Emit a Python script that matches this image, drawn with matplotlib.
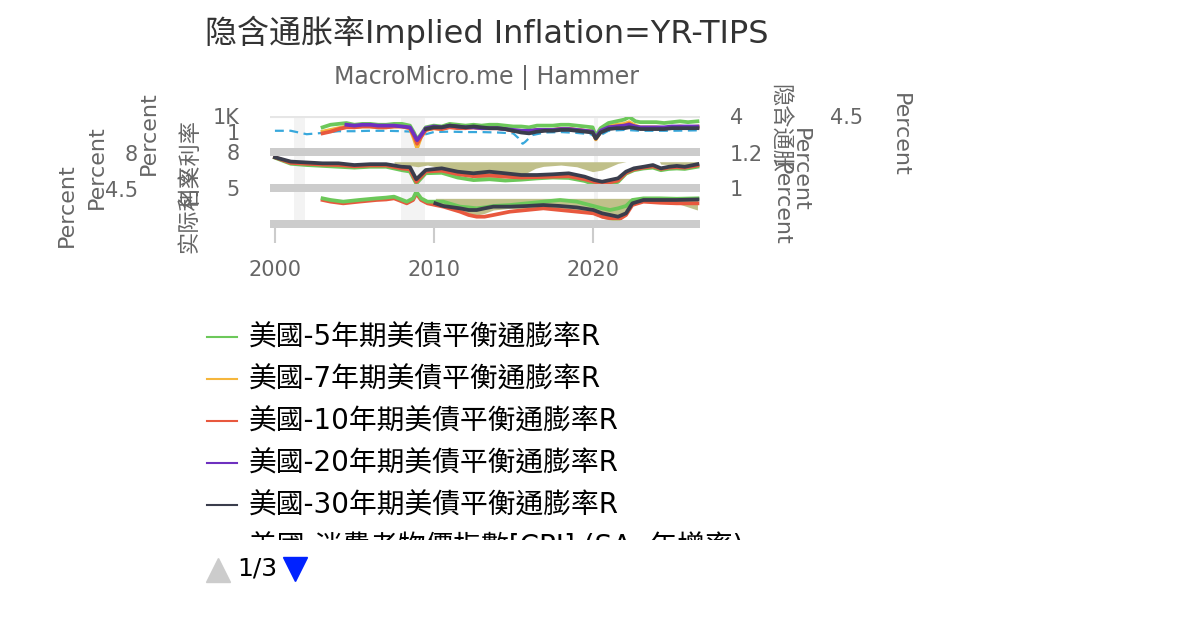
import numpy as np
import matplotlib.pyplot as plt
from matplotlib.lines import Line2D
from matplotlib.transforms import Bbox, TransformedBbox

nan = np.nan

# ---- top panel: breakeven inflation (%)
top_years = [2003.0, 2003.5, 2004.0, 2004.5, 2005.0, 2005.5, 2006.0, 2006.5, 2007.0, 2007.5,
             2008.0, 2008.5, 2008.75, 2008.95, 2009.2, 2009.5, 2010.0, 2010.5, 2011.0, 2011.5,
             2012.0, 2012.5, 2013.0, 2013.5, 2014.0, 2014.5, 2015.0, 2015.5, 2016.0, 2016.5,
             2017.0, 2017.5, 2018.0, 2018.5, 2019.0, 2019.5, 2020.0, 2020.2, 2020.5, 2021.0,
             2021.5, 2022.0, 2022.3, 2022.7, 2023.0, 2023.5, 2024.0, 2024.5, 2025.0, 2025.5,
             2026.0, 2026.6]
be5 = [2.4, 2.7, 2.8, 2.9, 2.7, 2.8, 2.8, 2.7, 2.7, 2.8, 2.8, 2.6, 1.8, 1.0, 1.6, 2.4, 2.6, 2.5,
       2.8, 2.7, 2.6, 2.7, 2.6, 2.7, 2.7, 2.6, 2.5, 2.5, 2.4, 2.6, 2.6, 2.6, 2.7, 2.7, 2.6, 2.5,
       2.4, 1.4, 2.3, 2.9, 3.1, 3.3, 3.6, 3.1, 3.0, 3.0, 3.0, 2.9, 3.0, 3.1, 3.0, 3.1]
be7 = [1.9, 2.1, 2.3, 2.5, 2.4, 2.5, 2.5, 2.4, 2.4, 2.5, 2.5, 2.3, 1.1, 0.0, 1.3, 2.1, 2.3, 2.2,
       2.5, 2.4, 2.4, 2.4, 2.3, 2.3, 2.3, 2.2, 2.0, 2.0, 1.9, 2.1, 2.1, 2.1, 2.2, 2.2, 2.1, 2.0,
       1.9, 1.0, 1.9, 2.5, 2.7, 2.8, 3.0, 2.6, 2.4, 2.4, 2.4, 2.3, 2.4, 2.5, 2.4, 2.5]
be10 = [1.7, 1.9, 2.2, 2.4, 2.4, 2.5, 2.5, 2.4, 2.4, 2.5, 2.5, 2.3, 1.4, 0.5, 1.3, 2.1, 2.3, 2.2,
        2.4, 2.3, 2.3, 2.4, 2.3, 2.3, 2.3, 2.2, 2.0, 2.0, 1.9, 2.1, 2.1, 2.1, 2.2, 2.2, 2.1, 2.0,
        1.9, 1.1, 1.9, 2.4, 2.5, 2.6, 2.8, 2.4, 2.3, 2.3, 2.3, 2.3, 2.4, 2.4, 2.4, 2.4]
be20 = [nan, nan, nan, 2.7, 2.6, 2.7, 2.7, 2.6, 2.6, 2.6, 2.5, 2.4, 1.6, 0.9, 1.5, 2.3, 2.5, 2.4,
        2.6, 2.5, 2.4, 2.4, 2.3, 2.3, 2.3, 2.2, 2.1, 2.0, 2.0, 2.1, 2.1, 2.1, 2.2, 2.2, 2.1, 2.0,
        1.9, 1.2, 2.0, 2.4, 2.5, 2.6, 2.7, 2.5, 2.4, 2.4, 2.4, 2.4, 2.5, 2.5, 2.5, 2.5]
be30 = [nan] * 15 + [2.2, 2.4, 2.4, 2.6, 2.5, 2.4, 2.5, 2.4, 2.3, 2.3, 2.2, 2.0, 1.8, 1.7, 1.9,
                     2.0, 2.0, 2.1, 2.1, 2.0, 1.9, 1.8, 1.1, 1.8, 2.2, 2.3, 2.3, 2.4, 2.3, 2.2,
                     2.2, 2.2, 2.2, 2.3, 2.3, 2.3, 2.3]
cpi_years = [2000, 2001, 2002, 2003, 2004, 2005, 2006, 2007, 2008, 2008.6, 2008.95, 2009.3,
             2010, 2011, 2012, 2013, 2014, 2015, 2015.3, 2015.45, 2015.6, 2015.75, 2016.2,
             2017, 2018, 2019, 2019.9, 2020.2, 2020.6, 2021, 2022, 2023, 2024, 2025, 2026.6]
cpi = [2.0, 2.0, 1.6, 1.75, 1.95, 1.95, 2.0, 2.0, 1.95, 1.9, 0.8, 1.5, 1.85, 1.9, 1.85, 1.85,
       1.8, 1.7, 1.2, 0.7, 0.5, 0.7, 1.5, 1.8, 1.85, 1.75, 1.6, 1.2, 1.6, 2.0, 2.1, 2.0, 2.0,
       2.0, 2.05]

# ---- middle panel: real rates (%)
mid_years = [2000, 2001, 2002, 2003, 2004, 2005, 2006, 2007, 2008, 2008.5, 2008.9, 2009.5,
             2010.5, 2011.5, 2012.5, 2013.5, 2014.5, 2015.5, 2016.5, 2017.5, 2018.5, 2019.5,
             2020.1, 2020.6, 2021.1, 2021.6, 2022.1, 2022.6, 2023.2, 2023.8, 2024.3, 2024.8,
             2025.3, 2025.8, 2026.6]
real30 = [4.2, 3.2, 3.0, 2.8, 2.8, 2.4, 2.6, 2.6, 2.0, 1.9, -0.9, 1.25, 1.64, 0.86, 0.48, 0.86,
          0.48, 0.09, 0.09, 0.25, 0.48, -0.3, -1.07, -1.47, -1.07, -0.68, 0.86, 1.64, 2.0, 2.4,
          1.64, 2.0, 2.2, 2.0, 2.6]
real10 = [4.2, 2.9, 2.7, 2.5, 2.4, 2.1, 2.3, 2.3, 1.6, 1.4, -1.5, 0.9, 1.1, 0.3, -0.2, 0.0,
          -0.3, -0.5, -0.4, -0.3, -0.2, -0.9, -1.5, -1.8, -1.6, -1.2, 0.6, 1.4, 1.8, 2.1, 1.5,
          1.8, 1.9, 1.8, 2.3]
real5 = [4.1, 2.7, 2.4, 2.2, 2.0, 1.8, 2.0, 2.0, 1.2, 0.9, -1.9, 0.5, 0.6, -0.5, -1.1, -0.9,
         -1.2, -1.0, -0.7, -0.5, -0.6, -1.3, -2.1, -2.3, -2.0, -1.5, 0.4, 1.2, 1.6, 1.8, 1.2,
         1.5, 1.6, 1.5, 2.0]
area_mid_years = [2007.5, 2008.3, 2009.0, 2009.6, 2010.6, 2011.0, 2011.6, 2012.7, 2013.7, 2014.8,
                  2015.8, 2016.4, 2016.9, 2018.0, 2019.0, 2020.0, 2020.6, 2021.1, 2021.6, 2022.1,
                  2024.2, 2024.3, 2025.0, 2026.0, 2026.6]
area_mid = [2.8, 2.4, 2.0, 2.4, 1.64, 0.86, 0.09, -0.4, -1.07, -0.3, 0.48, 1.64, 2.1, 2.4, 2.0,
            0.86, 1.25, 2.0, 2.8, 3.17, 3.17, 2.6, 2.5, 2.4, 2.5]
area_mid_top = 3.17

# ---- bottom panel: nominal yields (%)
bot_years = [2003.0, 2003.5, 2004.3, 2005.3, 2006.4, 2007.0, 2007.5, 2008.3, 2008.7, 2008.9,
             2009.2, 2009.6, 2010.1, 2010.6, 2011.65, 2012.2, 2012.7, 2013.2, 2013.75, 2014.8,
             2015.85, 2016.9, 2017.95, 2019.0, 2020.05, 2020.6, 2021.1, 2021.6, 2022.1, 2022.5,
             2023.2, 2024.25, 2025.3, 2026.6]
nom10 = [4.29, 3.93, 3.57, 3.93, 4.29, 4.4, 4.64, 3.57, 4.29, 5.7, 4.29, 3.57, 3.21, 2.86, 1.79,
         1.07, 0.71, 0.71, 1.07, 1.79, 2.14, 2.5, 2.14, 1.79, 1.43, 0.71, 0.36, 0.0, 1.07, 3.21,
         3.93, 3.7, 3.57, 3.57]
nom5 = [4.64, 4.29, 3.93, 4.29, 4.64, 4.8, 5.0, 3.93, 4.64, 6.07, 4.64, 3.93, 3.93, 3.93, 2.86,
        2.7, 2.5, 2.7, 3.0, 3.21, 3.57, 3.93, 4.29, 3.93, 3.0, 2.5, 2.14, 2.5, 3.0, 4.29, 4.64,
        4.64, 4.55, 4.64]
nom30 = [nan] * 12 + [3.57, 3.0, 2.5, 2.14, 2.14, 2.5, 2.86, 2.86, 3.0, 3.21, 3.0, 2.7, 2.14,
                      1.43, 1.07, 0.71, 1.43, 3.57, 4.29, 4.29, 4.29, 4.4]
area_bot = [nan] * 12 + [4.29, 3.21, 2.14, 1.43, 1.07, 1.43, 2.14, 2.5, 2.14, 2.5, 2.14, 2.14,
                         1.43, 0.36, 0.0, -0.36, 1.07, 3.93, 4.29, 4.29, 3.57, 2.14]
area_bot_top = 4.64

recessions = [(2001.2, 2001.9), (2007.95, 2009.45), (2020.1, 2020.35)]

legend_labels = ['美國-5年期美債平衡通膨率R', '美國-7年期美債平衡通膨率R', '美國-10年期美債平衡通膨率R',
                 '美國-20年期美債平衡通膨率R', '美國-30年期美債平衡通膨率R',
                 '美國-消費者物價指數[CPI] (SA, 年增率)']

GREEN, ORANGE, RED, PURPLE, DARK = '#6cc85a', '#f5b63c', '#e8583e', '#6e30bf', '#3a3d4c'
BLUE, OLIVE = '#38a8dc', '#c0c08a'
legend_colors = [GREEN, ORANGE, RED, PURPLE, DARK, BLUE]

W, H = 1200, 630
fig = plt.figure(figsize=(12, 6.3), dpi=100)
ZH = ['DejaVu Sans', 'Noto Sans CJK SC']
TW = ['DejaVu Sans', 'Noto Sans CJK TC']


def box(x0, y0, x1, y1):
    return [x0 / W, 1 - y1 / H, (x1 - x0) / W, (y1 - y0) / H]


def put(x, y, s, **kw):
    kw.setdefault('family', ZH)
    return fig.text(x / W, 1 - y / H, s, **kw)


XL = (1999.69, 2026.76)

# background: recession shading, gray separator bands, x ticks
bg = fig.add_axes(box(270, 116, 700, 228))
bg.set_xlim(XL)
bg.set_ylim(228, 116)
for a, b in recessions:
    bg.axvspan(a, b, color='#f3f3f3', lw=0, zorder=0)
for a, b in [(148, 156), (184, 192), (220, 228)]:
    bg.axhspan(a, b, color='#cccccc', lw=0, zorder=2)
bg.axhline(117, color='#e6e6e6', lw=1.5, zorder=2)
for s in bg.spines.values():
    s.set_visible(False)
bg.set_yticks([])
bg.set_xticks([2000, 2010, 2020])
bg.tick_params(axis='x', length=11, width=1.5, color='#cccccc', labelsize=15,
               labelcolor='#666666', pad=12)


def panel(y0, y1, ylim):
    ax = fig.add_axes(box(270, y0, 700, y1))
    ax.set_xlim(XL)
    ax.set_ylim(ylim)
    ax.patch.set_alpha(0)
    ax.axis('off')
    return ax


lw = 2.7
top = panel(117, 148, (0, 3.6))
top.plot(cpi_years, cpi, color=BLUE, lw=1.6, ls=(0, (4, 2.5)))
top.plot(top_years, be7, color=ORANGE, lw=lw)
top.plot(top_years, be10, color=RED, lw=lw)
top.plot(top_years, be5, color=GREEN, lw=lw)
top.plot(top_years, be20, color=PURPLE, lw=lw)
top.plot(top_years, be30, color=DARK, lw=lw)

mid = panel(156, 184, (-2, 4.5))
mid.fill_between(area_mid_years, area_mid_top, area_mid, color=OLIVE, lw=0)
mid.plot(mid_years, real5, color=GREEN, lw=lw)
mid.plot(mid_years, real10, color=RED, lw=lw)
mid.plot(mid_years, real30, color=DARK, lw=lw)

bot = panel(192, 220, (0, 6))
bot.fill_between(bot_years, area_bot_top, area_bot, color=OLIVE, lw=0)
bot.plot(bot_years, nom10, color=RED, lw=lw)
bot.plot(bot_years, nom5, color=GREEN, lw=lw)
bot.plot(bot_years, nom30, color=DARK, lw=lw)

# titles
put(205, 33, '隐含通胀率Implied Inflation=YR-TIPS', fontsize=23, color='#333333', va='center')
put(486, 78, 'MacroMicro.me | Hammer', fontsize=17, color='#666666', ha='center', va='center')

# overlapping axis labels (left)
g = '#666666'
for x, y, s in [(240, 118, '1K'), (240, 134, '1'), (240, 154, '8'), (240, 190, '5'),
                (138, 155, '8'), (138, 191, '4.5')]:
    put(x, y, s, fontsize=15, color=g, ha='right', va='center')
for x, y in [(67, 205), (97, 167), (149, 133)]:
    put(x, y, 'Percent', fontsize=16, color=g, rotation=90, ha='center', va='center')
put(189, 209, '实际利率', fontsize=16, color=g, rotation=90, ha='center', va='center')
put(191, 164, '名义利率', fontsize=16, color=g, rotation=90, ha='center', va='center')

# overlapping axis labels (right)
for x, y, s in [(730, 118, '4'), (730, 155, '1.2'), (730, 190, '1'), (830, 118, '4.5')]:
    put(x, y, s, fontsize=15, color=g, ha='left', va='center')
for x, y in [(900, 135), (800, 170), (781, 204)]:
    put(x, y, 'Percent', fontsize=16, color=g, rotation=-90, ha='center', va='center')
put(779, 129, '隐含通胀', fontsize=16, color=g, rotation=-90, ha='center', va='center')

# legend (first page of three, last entry cut off)
clip = TransformedBbox(Bbox([[0, 1 - 540 / H], [1, 1]]), fig.transFigure)
for i, (lab, c) in enumerate(zip(legend_labels, legend_colors)):
    y = 337 + 42 * i
    ln = Line2D([207 / W, 237 / W], [1 - y / H] * 2, color=c, lw=1.5, transform=fig.transFigure)
    ln.set_clip_box(clip)
    fig.add_artist(ln)
    t = put(249, y, lab, fontsize=20, color='black', va='center', family=TW)
    t.set_clip_box(clip)
    t.set_clip_on(True)

fig.add_artist(Line2D([218 / W], [1 - 570 / H], marker='^', ms=17, color='#cccccc', lw=0,
                      transform=fig.transFigure))
put(237, 569, '1/3', fontsize=18, color='black', va='center')
fig.add_artist(Line2D([295 / W], [1 - 569 / H], marker='v', ms=17, color='#0022ff', lw=0,
                      transform=fig.transFigure))

fig.savefig('out.png', dpi=100)
